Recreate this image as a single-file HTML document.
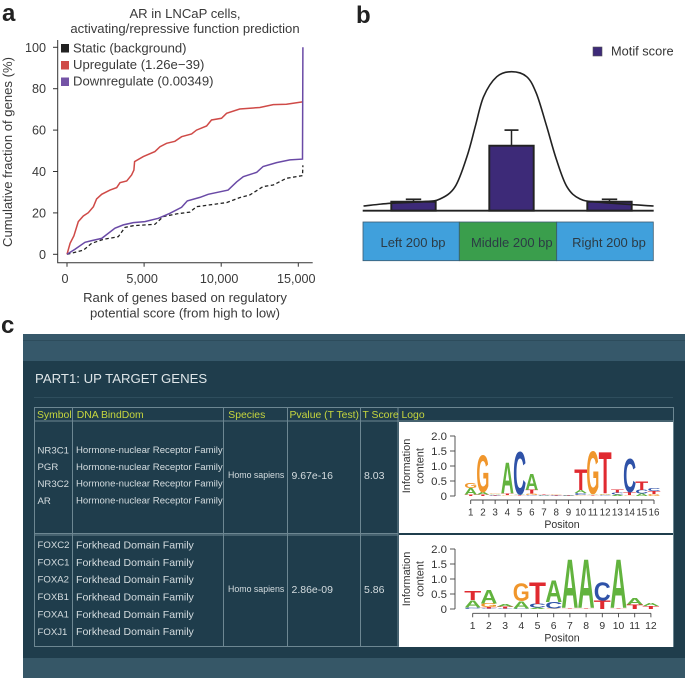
<!DOCTYPE html>
<html lang="en">
<head>
<meta charset="utf-8">
<title>AR function prediction, motif score and target genes</title>
<style>
html,body{margin:0;padding:0;background:#fff;}
svg{display:block;font-family:"Liberation Sans",sans-serif;}
.lab{font-weight:bold;font-size:24px;fill:#222;}
.a{font-size:13.1px;fill:#3a3a3a;}
.t{font-size:12.6px;fill:#3a3a3a;}
.b{font-size:13px;fill:#2c3b45;}
.hd{font-size:10.4px;fill:#c6d63e;}
.sy{font-size:9.6px;fill:#d5dde0;}
.dn{font-size:9.6px;fill:#d5dde0;}
.fk{font-size:10.55px;fill:#d5dde0;}
.sp{font-size:8.8px;fill:#d5dde0;}
.vl{font-size:10.5px;fill:#d5dde0;}
.lg{font-size:11.4px;fill:#333;}
.lx{font-size:10.6px;fill:#333;}
.ln{stroke:#6d8792;stroke-width:1;fill:none;}
</style>
</head>
<body>
<svg id="fig" xmlns="http://www.w3.org/2000/svg" width="685" height="678" viewBox="0 0 685 678">
  <rect width="685" height="678" fill="#fff"/>

  <!-- Panel a -->
  <text class="lab" x="2" y="21">a</text>
  <g id="panelA">
    <text class="a" x="185" y="18" text-anchor="middle">AR in LNCaP cells,</text>
    <text class="a" x="185" y="33" text-anchor="middle">activating/repressive function prediction</text>
    <text class="a" transform="translate(12,152) rotate(-90)" text-anchor="middle">Cumulative fraction of genes (%)</text>
    <text class="a" x="185" y="302" text-anchor="middle">Rank of genes based on regulatory</text>
    <text class="a" x="185" y="317.5" text-anchor="middle">potential score (from high to low)</text>
    <path d="M57.7 40V262.7H312.7" fill="none" stroke="#333" stroke-width="1"/>
    <rect x="61" y="44" width="8" height="8.5" fill="#222"/>
    <rect x="61" y="61" width="8" height="8.5" fill="#cf4a47"/>
    <rect x="61" y="77.5" width="8" height="8.5" fill="#7453a6"/>
    <text class="a" x="73" y="52.5">Static (background)</text>
    <text class="a" x="73" y="69">Upregulate (1.26e−39)</text>
    <text class="a" x="73" y="85.5">Downregulate (0.00349)</text>
  </g>

  <!-- Panel b -->
  <text class="lab" x="356" y="23">b</text>
  <g id="panelB">
    <rect x="593" y="47" width="9" height="9" fill="#3d2a78" stroke="#555" stroke-width="0.6"/>
    <text class="b" style="fill:#333;font-size:12.8px" x="611" y="55.5">Motif score</text>
    <rect x="363" y="222" width="96.3" height="38.7" fill="#40a0dc" stroke="#3a5a70" stroke-width="0.8"/>
    <rect x="459.3" y="222" width="97.4" height="38.7" fill="#3a9e4c" stroke="#3a5a70" stroke-width="0.8"/>
    <rect x="556.7" y="222" width="96.6" height="38.7" fill="#40a0dc" stroke="#3a5a70" stroke-width="0.8"/>
    <text class="b" x="413" y="247" text-anchor="middle">Left 200 bp</text>
    <text class="b" x="511.8" y="247" text-anchor="middle">Middle 200 bp</text>
    <text class="b" x="609" y="247" text-anchor="middle">Right 200 bp</text>
  </g>

  <!-- Panel c -->
  <text class="lab" x="1" y="333">c</text>
  <g>
    <rect x="23" y="334" width="662" height="344" fill="#1f3d4c"/>
    <rect x="23" y="334" width="662" height="27" fill="#36586a"/>
    <rect x="23" y="340" width="662" height="1" fill="#2d4c5c"/>
    <rect x="23" y="658" width="662" height="20" fill="#365767"/>
    <text x="35" y="383" style="font-size:13.2px;fill:#dfe6e9">PART1: UP TARGET GENES</text>
    <path d="M34 397.5H673" stroke="#2f4e5d" stroke-width="1"/>

    <g>
      <rect x="34.5" y="407.5" width="639" height="239" class="ln"/>
      <path class="ln" d="M34.5 421H673M34.5 533.5H398M34.5 535H398M72.5 407.5V646.5M223.5 407.5V646.5M287.5 407.5V646.5M360.5 407.5V646.5M398 407.5V646.5"/>
      <text class="hd" x="37" y="418">Symbol</text>
      <text class="hd" x="76.7" y="418">DNA BindDom</text>
      <text class="hd" x="228.3" y="418">Species</text>
      <text class="hd" x="289.5" y="418">Pvalue (T Test)</text>
      <text class="hd" x="362.5" y="418">T Score</text>
      <text class="hd" x="401.5" y="418">Logo</text>

      <text class="sy" x="37.5" y="453.5">NR3C1</text>
      <text class="sy" x="37.5" y="470">PGR</text>
      <text class="sy" x="37.5" y="487">NR3C2</text>
      <text class="sy" x="37.5" y="504">AR</text>
      <text class="dn" x="76" y="453">Hormone-nuclear Receptor Family</text>
      <text class="dn" x="76" y="470">Hormone-nuclear Receptor Family</text>
      <text class="dn" x="76" y="486.5">Hormone-nuclear Receptor Family</text>
      <text class="dn" x="76" y="503.5">Hormone-nuclear Receptor Family</text>
      <text class="sp" x="228" y="478">Homo sapiens</text>
      <text class="vl" x="291.5" y="479">9.67e-16</text>
      <text class="vl" x="364" y="479">8.03</text>

      <text class="sy" x="37.5" y="548">FOXC2</text>
      <text class="sy" x="37.5" y="565.5">FOXC1</text>
      <text class="sy" x="37.5" y="582.5">FOXA2</text>
      <text class="sy" x="37.5" y="600">FOXB1</text>
      <text class="sy" x="37.5" y="617.5">FOXA1</text>
      <text class="sy" x="37.5" y="635">FOXJ1</text>
      <text class="fk" x="76" y="548.5">Forkhead Domain Family</text>
      <text class="fk" x="76" y="566">Forkhead Domain Family</text>
      <text class="fk" x="76" y="583">Forkhead Domain Family</text>
      <text class="fk" x="76" y="600.5">Forkhead Domain Family</text>
      <text class="fk" x="76" y="618">Forkhead Domain Family</text>
      <text class="fk" x="76" y="635">Forkhead Domain Family</text>
      <text class="sp" x="228" y="592">Homo sapiens</text>
      <text class="vl" x="291.5" y="593">2.86e-09</text>
      <text class="vl" x="364" y="593">5.86</text>

      <rect x="399" y="422" width="274" height="111" fill="#fff"/>
      <rect x="399" y="535" width="274" height="112" fill="#fff"/>
    </g>
    <g id="logos"></g>
  </g>
</svg>

<script>
/* Panel a data */
const rankTicks = [0, 5000, 10000, 15000];
const rankTickLabels = ['0', '5,000', '10,000', '15,000'];
const percentTicks = [0, 20, 40, 60, 80, 100];
const staticRanks = [0,1060,1600,2350,3330,3760,4300,5700,6240,7110,7970,8400,10350,11200,11860,12720,13370,14230,15270,15300];
const staticValues = [0,2,5.3,7.2,8.5,13,13.8,14.5,18.2,19.5,20.4,23,25,27.4,28.7,32.7,33.5,36.7,38,43];
const upRanks = [0,200,450,735,1060,1380,1710,1920,2250,2790,3220,3435,3870,4190,4340,4385,4950,5700,6030,6460,7000,7430,8080,8400,9050,9370,10020,10350,11200,12500,13370,14230,15270];
const upValues = [0,5.3,8.9,15.8,18.5,20.1,23,26.7,29,31,32.2,34.6,35.4,38.3,40.7,44.8,47.2,49.6,52,53.6,54.6,56.8,58.1,60,62,64.9,65.7,68.1,70.2,70.9,72.3,72.5,73.6];
const downRanks = [0,520,1170,1600,2250,3110,3650,4300,5050,5920,6670,7430,7800,8620,9160,10450,11000,11430,12300,12720,13590,14450,15270,15300];
const downValues = [0,2.4,5.8,6.6,7.7,12.6,14.2,15.3,15.8,17.4,19.8,22.7,25.8,27.5,29,31,35,37.5,39.6,42.4,44.3,45.6,46,100];

/* Panel b data */
const regionOffsets = [-200, 0, 200];
const motifScores = [9, 65, 9];
const motifErrors = [2.4, 15.6, 2.4];
const signalOffsets = [-302,-248,-180,-146,-115,-91,-74,-57,-30,0,31,51,72,92,113,140,181,290];
const signalValues = [4.7,7.4,9,11.7,24,54,84,114,134,139,134,117,84,50.7,24,11.7,8.4,4.7];

/* Panel c logo data: stacks list [letter, bits] from the bottom up */
const infoTicks = [0, 0.5, 1, 1.5, 2];
const infoTickLabels = ['0', '0.5', '1.0', '1.5', '2.0'];
const logoOneStacks = [
  [['T',.05],['A',.22],['G',.18]],
  [['T',.05],['A',.08],['G',1.25]],
  [['C',.02],['T',.02],['A',.02],['G',.03]],
  [['G',.03],['T',.05],['A',1.05]],
  [['T',.03],['A',.02],['C',1.45]],
  [['C',.03],['G',.05],['T',.12],['A',.55]],
  [['C',.02],['A',.02],['T',.03]],
  [['C',.02],['T',.02],['G',.03]],
  [['C',.01],['T',.01],['A',.02]],
  [['G',.03],['C',.07],['A',.1],['T',.7]],
  [['T',.03],['A',.03],['G',1.45]],
  [['C',.03],['A',.02],['G',.03],['T',1.4]],
  [['A',.05],['C',.07],['T',.1]],
  [['G',.03],['T',.1],['C',1.15]],
  [['A',.08],['C',.12],['T',.28]],
  [['G',.06],['T',.1],['C',.1]]
];
const logoTwoStacks = [
  [['C',.05],['A',.25],['T',.3]],
  [['C',.02],['T',.05],['G',.12],['A',.45]],
  [['C',.02],['T',.07],['A',.08]],
  [['C',.02],['A',.25],['G',.6]],
  [['A',.05],['C',.12],['T',.75]],
  [['G',.02],['C',.22],['A',.75]],
  [['T',.03],['A',1.65]],
  [['T',.03],['A',1.65]],
  [['T',.28],['C',.62]],
  [['T',.03],['A',1.65]],
  [['T',.15],['A',.22]],
  [['T',.1],['A',.1]]
];
const letterColors = {A:'#62b33e', C:'#2f52a8', G:'#f0962c', T:'#e02a30'};
const letterAdvance = {A:7.22, C:7.22, G:7.78, T:6.11};

const NS = 'http://www.w3.org/2000/svg';
function make(tag, parent) {
  const el = document.createElementNS(NS, tag);
  parent.appendChild(el);
  return el;
}
function setAll(el, props) {
  for (const k in props) el.setAttribute(k, props[k]);
}

/* Panel a scales */
const xA = r => 67 + r * (231.3 / 15000);
const yA = v => 254.3 - v * 2.07;
const panelA = document.getElementById('panelA');

rankTicks.forEach((t, i) => {
  const tick = make('line', panelA);
  
  
  setAll(tick, {x1: xA(t), x2: xA(t), y1: 262.7, y2: 266.7, stroke: '#333'});
  const label = make('text', panelA);
  
  
  setAll(label, {x: xA(t) - 2, y: 283, 'text-anchor': 'middle', class: 't'});
  label.textContent = rankTickLabels[i];
});
percentTicks.forEach(t => {
  const tick = make('line', panelA);
  
  
  setAll(tick, {x1: 53, x2: 57.7, y1: yA(t), y2: yA(t), stroke: '#333'});
  const label = make('text', panelA);
  
  
  setAll(label, {x: 46, y: yA(t) + 4.5, 'text-anchor': 'end', class: 't'});
  label.textContent = t;
});
function linePoints(xs, ys) {
  return xs.map((r, i) => xA(r).toFixed(1) + ',' + yA(ys[i]).toFixed(1)).join(' ');
}
const staticLine = make('polyline', panelA);


setAll(staticLine, {points: linePoints(staticRanks, staticValues), fill: 'none', stroke: '#222', 'stroke-width': 1.3, 'stroke-dasharray': '3.5 2.5'});
const upLine = make('polyline', panelA);


setAll(upLine, {points: linePoints(upRanks, upValues), fill: 'none', stroke: '#cf4a47', 'stroke-width': 1.5});
const downLine = make('polyline', panelA);


setAll(downLine, {points: linePoints(downRanks, downValues), fill: 'none', stroke: '#6a4aa6', 'stroke-width': 1.5});

/* Panel b scales */
const xB = bp => 511.5 + bp * 0.49;
const yB = v => 210.7 - v;
const panelB = document.getElementById('panelB');

motifScores.forEach((score, i) => {
  const cx = xB(regionOffsets[i]);
  const halfCap = i === 1 ? 7 : 7.7;
  const stem = make('line', panelB);
  
  
  setAll(stem, {x1: cx, x2: cx, y1: yB(score), y2: yB(score + motifErrors[i]), stroke: '#222', 'stroke-width': 1.5});
  const cap = make('line', panelB);
  
  
  setAll(cap, {x1: cx - halfCap, x2: cx + halfCap, y1: yB(score + motifErrors[i]), y2: yB(score + motifErrors[i]), stroke: '#222', 'stroke-width': 1.7});
  const bar = make('rect', panelB);
  
  
  setAll(bar, {x: cx - 22.2, y: yB(score), width: 44.4, height: score, fill: '#3d2a78', stroke: '#222', 'stroke-width': 1.9});
});

function smoothPath(pts) {
  let d = 'M' + pts[0][0].toFixed(1) + ' ' + pts[0][1].toFixed(1);
  for (let i = 0; i < pts.length - 1; i++) {
    const p0 = pts[Math.max(i - 1, 0)], p1 = pts[i], p2 = pts[i + 1], p3 = pts[Math.min(i + 2, pts.length - 1)];
    const c1x = p1[0] + (p2[0] - p0[0]) / 6, c1y = p1[1] + (p2[1] - p0[1]) / 6;
    const c2x = p2[0] - (p3[0] - p1[0]) / 6, c2y = p2[1] - (p3[1] - p1[1]) / 6;
    d += 'C' + [c1x, c1y, c2x, c2y, p2[0], p2[1]].map(n => n.toFixed(1)).join(' ');
  }
  return d;
}
const signal = make('path', panelB);


setAll(signal, {d: smoothPath(signalOffsets.map((o, i) => [xB(o), yB(signalValues[i])])), fill: 'none', stroke: '#222', 'stroke-width': 1.6});
const baseline = make('line', panelB);


setAll(baseline, {x1: 362.7, x2: 653.7, y1: 210.7, y2: 210.7, stroke: '#222', 'stroke-width': 1.9});

/* Panel c logos */
const logos = document.getElementById('logos');
function drawLogo(stacks, o) {
  const yL = v => o.y0 - v * 30;
  const xL = p => o.x1 + (p - 1) * o.step;
  const group = make('g', logos);
  
  

  stacks.forEach((stack, i) => {
    let base = 0;
    stack.forEach(item => {
      const letter = item[0], bits = item[1];
      const glyph = make('text', group);
      
      
      const sx = o.letterW / letterAdvance[letter];
      const sy = bits * 30 / 7.1;
      setAll(glyph, {
        transform: 'translate(' + xL(i + 1).toFixed(2) + ',' + yL(base).toFixed(2) + ') scale(' + sx.toFixed(3) + ',' + sy.toFixed(3) + ')',
        'text-anchor': 'middle', fill: letterColors[letter]
      });
      glyph.style.fontSize = '10px';
      glyph.style.fontWeight = 'bold';
      glyph.textContent = letter;
      base += bits;
    });
  });

  const yAxis = make('path', group);
  
  
  setAll(yAxis, {d: 'M455 ' + yL(2) + 'V' + yL(0), fill: 'none', stroke: '#444', 'stroke-width': 0.9});
  infoTicks.forEach((t, i) => {
    const tick = make('line', group);
    
    
    setAll(tick, {x1: 450, x2: 455, y1: yL(t), y2: yL(t), stroke: '#444', 'stroke-width': 0.9});
    const label = make('text', group);
    
    
    setAll(label, {x: 447, y: yL(t) + 4, 'text-anchor': 'end', class: 'lg'});
    label.textContent = infoTickLabels[i];
  });
  const xAxis = make('line', group);
  
  
  setAll(xAxis, {x1: xL(1), x2: xL(stacks.length), y1: o.axisY, y2: o.axisY, stroke: '#444', 'stroke-width': 0.9});
  stacks.forEach((stack, i) => {
    const tick = make('line', group);
    
    
    setAll(tick, {x1: xL(i + 1), x2: xL(i + 1), y1: o.axisY, y2: o.axisY + 4, stroke: '#444', 'stroke-width': 0.9});
    const label = make('text', group);
    
    
    setAll(label, {x: xL(i + 1), y: o.axisY + 15.5, 'text-anchor': 'middle', class: 'lx'});
    label.style.fontSize = o.tickSize;
    label.textContent = i + 1;
  });
  const posTitle = make('text', group);
  
  
  setAll(posTitle, {x: 562, y: o.axisY + 28, 'text-anchor': 'middle', class: 'lx'});
  posTitle.textContent = 'Positon';
  const infoTitle = make('text', group);
  
  
  setAll(infoTitle, {transform: 'translate(410,' + (o.y0 - 30) + ') rotate(-90)', 'text-anchor': 'middle', class: 'lx'});
  infoTitle.style.fontSize = '10.9px';
  infoTitle.textContent = 'Information';
  const contentTitle = make('text', group);
  
  
  setAll(contentTitle, {transform: 'translate(423.5,' + (o.y0 - 30) + ') rotate(-90)', 'text-anchor': 'middle', class: 'lx'});
  contentTitle.style.fontSize = '10.9px';
  contentTitle.textContent = 'content';
}
drawLogo(logoOneStacks, {x1: 470.7, step: 12.22, y0: 496, axisY: 500, letterW: 13, tickSize: '9.8px'});
drawLogo(logoTwoStacks, {x1: 472.7, step: 16.2, y0: 609, axisY: 613.3, letterW: 17, tickSize: '10.4px'});
</script>
</body>
</html>
